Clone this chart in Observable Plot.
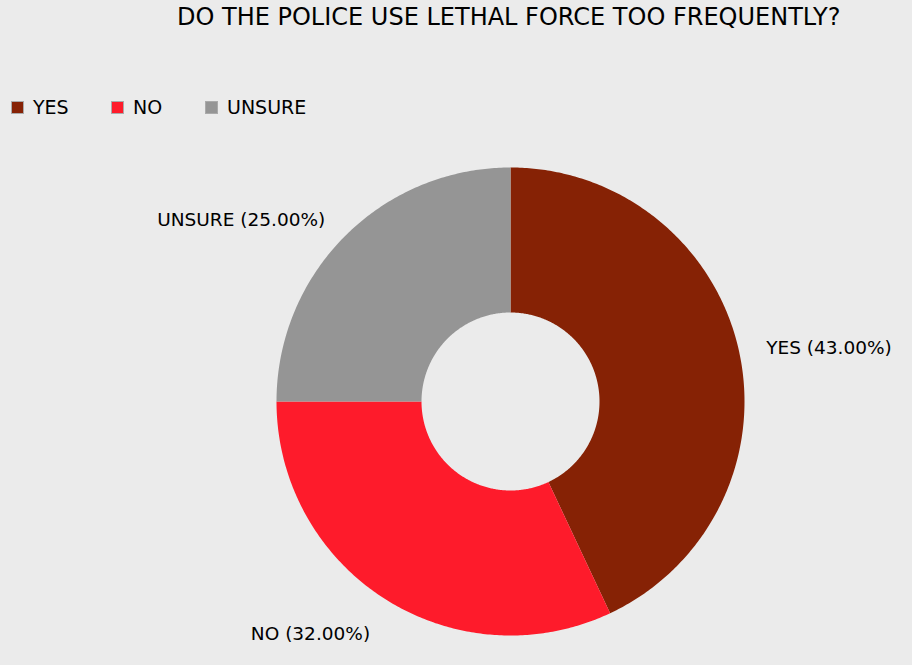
<!DOCTYPE html>
<html>
<head>
<meta charset="utf-8">
<script src="https://cdn.jsdelivr.net/npm/d3@7"></script>
<script src="https://cdn.jsdelivr.net/npm/@observablehq/plot@0.6"></script>
<style>
  html, body { margin: 0; padding: 0; background: #ebebeb; }
  #wrap { position: relative; width: 912px; height: 665px; background: #ebebeb; font-family: "Comic Sans MS", "DejaVu Sans", sans-serif; color: #000; overflow: hidden; }
  #title { position: absolute; left: 177px; top: 3px; font-size: 24px; white-space: nowrap; }
  #legend { position: absolute; left: 11px; top: 95px; height: 22px; font-size: 19px; }
  .item { position: absolute; top: 0; white-space: nowrap; }
  .sw { position: absolute; top: 6px; width: 11px; height: 11px; border: 1px solid #aaa; }
  .lab { position: absolute; left: 22px; top: 0; line-height: 24px; }
  #chart { position: absolute; left: 0; top: 140px; }
</style>
</head>
<body>
<div id="wrap">
  <div id="title">DO THE POLICE USE LETHAL FORCE TOO FREQUENTLY?</div>
  <div id="legend"></div>
  <div id="chart"></div>
</div>
<script>
const categories = ["YES", "NO", "UNSURE"];
const values = [43, 32, 25];
const colors = ["#862205", "#fe1b2b", "#959595"];

const W = 912, H = 525;
const cx = 510, cy = 261;
const R = 234, r0 = 89, RL = 262;

// legend
const legendX = [0, 100, 194];
const legend = document.getElementById("legend");
categories.forEach((c, i) => {
  const it = document.createElement("div");
  it.className = "item";
  it.style.left = legendX[i] + "px";
  it.innerHTML = `<div class="sw" style="background:${colors[i]}"></div><div class="lab">${c}</div>`;
  legend.appendChild(it);
});

const pie = d3.pie().sort(null).value(d => d.value)(categories.map((c, i) => ({cat: c, value: values[i]})));
const total = d3.sum(values);

const pts = [];
for (const a of pie) {
  const n = Math.max(2, Math.ceil((a.endAngle - a.startAngle) / 0.01));
  for (let k = 0; k <= n; k++) {
    const t = a.startAngle + (a.endAngle - a.startAngle) * k / n;
    pts.push({cat: a.data.cat, x: R * Math.sin(t), y: -R * Math.cos(t)});
  }
  for (let k = n; k >= 0; k--) {
    const t = a.startAngle + (a.endAngle - a.startAngle) * k / n;
    pts.push({cat: a.data.cat, x: r0 * Math.sin(t), y: -r0 * Math.cos(t)});
  }
}

const labels = pie.map(a => {
  const m = (a.startAngle + a.endAngle) / 2;
  return {
    cat: a.data.cat,
    text: `${a.data.cat} (${(a.data.value / total * 100).toFixed(2)}%)`,
    x: RL * Math.sin(m), y: -RL * Math.cos(m),
    right: Math.sin(m) >= 0, bottom: -Math.cos(m) > 0
  };
});

const fs = 18.5;
const chart = Plot.plot({
  width: W, height: H,
  margin: 0,
  style: {background: "#ebebeb", fontFamily: "'Comic Sans MS', 'DejaVu Sans', sans-serif"},
  x: {domain: [-cx, W - cx], range: [0, W], axis: null},
  y: {domain: [-cy, H - cy], range: [0, H], axis: null},
  color: {domain: categories, range: colors},
  marks: [
    Plot.line(pts, {x: "x", y: "y", z: "cat", fill: "cat", stroke: "none", curve: "linear-closed"}),
    Plot.text(labels.filter(d => d.right), {x: "x", y: "y", text: "text", textAnchor: "start", lineAnchor: "middle", dy: 4, fontSize: fs, fill: "#000"}),
    Plot.text(labels.filter(d => !d.right && !d.bottom), {x: "x", y: "y", text: "text", textAnchor: "end", lineAnchor: "middle", dy: 4, fontSize: fs, fill: "#000"}),
    Plot.text(labels.filter(d => !d.right && d.bottom), {x: "x", y: "y", text: "text", textAnchor: "end", lineAnchor: "middle", dy: 11, fontSize: fs, fill: "#000"})
  ]
});
document.getElementById("chart").appendChild(chart);
</script>
</body>
</html>
